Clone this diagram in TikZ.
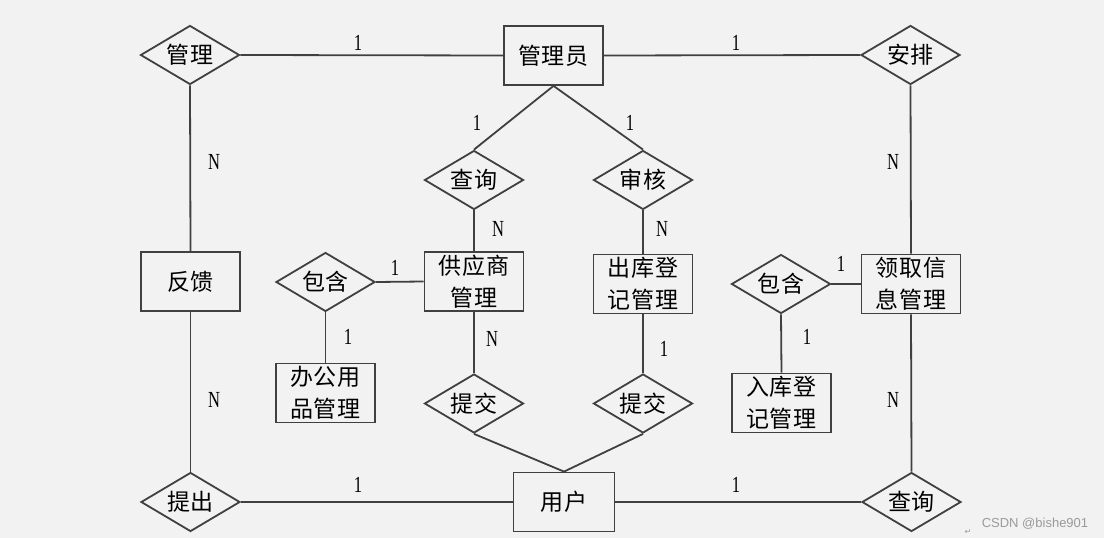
\documentclass[tikz,border=0pt]{standalone}
\usepackage{fontspec}
\usetikzlibrary{shapes.geometric}
\newfontfamily\cjk[LetterSpace=4]{Noto Sans CJK SC}
\newfontfamily\numfont[FakeStretch=0.72]{Liberation Serif}
\newfontfamily\wmfont{Liberation Sans}
\newfontfamily\symfont{DejaVu Sans}
\definecolor{bg}{HTML}{F2F2F2}
\definecolor{ln}{HTML}{404040}
\definecolor{wm}{HTML}{9A9A9A}
\begin{document}
\begin{tikzpicture}[x=1pt,y=-1pt,
  ent/.style={draw=ln, line width=1.8pt, minimum width=99pt, minimum height=59pt, inner sep=0pt,
    font=\cjk\fontsize{23}{32}\selectfont, align=center, text=black},
  rel/.style={diamond, aspect=1.68, draw=ln, line width=1.8pt, minimum width=99pt, minimum height=59pt,
    inner sep=0pt, font=\cjk\fontsize{23}{26}\selectfont, text=black},
  card/.style={font=\numfont\fontsize{23}{23}\selectfont, inner sep=0pt, text=black},
  conn/.style={draw=ln, line width=1.8pt}]
\fill[bg] (0,0) rectangle (1104,538);
% relationships
\node[rel] (gl) at (190,55) {管理};
\node[rel] (ap) at (910.5,55) {安排};
\node[rel] (cx1) at (474,180) {查询};
\node[rel] (sh) at (643,180) {审核};
\node[rel] (bh1) at (325.5,282) {包含};
\node[rel] (bh2) at (781,284) {包含};
\node[rel] (tj1) at (474,403.5) {提交};
\node[rel] (tj2) at (643,403.5) {提交};
\node[rel] (tc) at (190.5,502) {提出};
\node[rel] (cx2) at (911.5,502) {查询};
% entities
\node[ent] (gly) at (553.5,55.5) {管理员};
\node[ent] (fk) at (190.5,281.5) {反馈};
\node[ent] (gys) at (474,281.5) {供应商\\管理};
\node[ent] (bg1) at (325.5,393) {办公用\\品管理};
\node[ent] (ck) at (643,284) {出库登\\记管理};
\node[ent] (lq) at (911,284) {领取信\\息管理};
\node[ent] (rk) at (781.5,403) {入库登\\记管理};
\node[ent, minimum width=101pt] (yh) at (564,502) {用户};
% connectors
\draw[conn] (gl.east) -- (gly.west);
\draw[conn] (gly.east) -- (ap.west);
\draw[conn] (gl.south) -- (fk.north);
\draw[conn] (fk.south) -- (tc.north);
\draw[conn] (tc.east) -- (yh.west);
\draw[conn] (yh.east) -- (cx2.west);
\draw[conn] (ap.south) -- (lq.north);
\draw[conn] (lq.south) -- (cx2.north);
\draw[conn] (gly.south) -- (cx1.north);
\draw[conn] (gly.south) -- (sh.north);
\draw[conn] (cx1.south) -- (gys.north);
\draw[conn] (sh.south) -- (ck.north);
\draw[conn] (bh1.east) -- (gys.west);
\draw[conn] (bh1.south) -- (bg1.north);
\draw[conn] (gys.south) -- (tj1.north);
\draw[conn] (ck.south) -- (tj2.north);
\draw[conn] (tj1.south) -- (yh.north);
\draw[conn] (tj2.south) -- (yh.north);
\draw[conn] (bh2.east) -- (lq.west);
\draw[conn] (bh2.south) -- (rk.north);
% cardinalities
\node[card] (c1) at (358,43) {1};
\node[card] (c2) at (736,43) {1};
\node[card] (c3) at (477,123) {1};
\node[card] (c4) at (630,123) {1};
\node[card] (c5) at (214,162) {N};
\node[card] (c6) at (893,162) {N};
\node[card] (c7) at (498,229) {N};
\node[card] (c8) at (662,229) {N};
\node[card] (c9) at (395,268) {1};
\node[card] (c10) at (841,264) {1};
\node[card] (c11) at (348,337) {1};
\node[card] (c12) at (492,339) {N};
\node[card] (c13) at (807,337) {1};
\node[card] (c14) at (664,349) {1};
\node[card] (c15) at (214,400) {N};
\node[card] (c16) at (893,400) {N};
\node[card] (c17) at (358,485) {1};
\node[card] (c18) at (736,485) {1};
% watermark
\node[font=\wmfont\fontsize{13}{13}\selectfont, text=wm, inner sep=0pt] (wmk) at (1035,524) {CSDN @bishe901};
\node[font=\symfont\fontsize{8}{8}\selectfont, text=wm, inner sep=0pt] (pm) at (968,532) {↵};
\end{tikzpicture}
\end{document}
